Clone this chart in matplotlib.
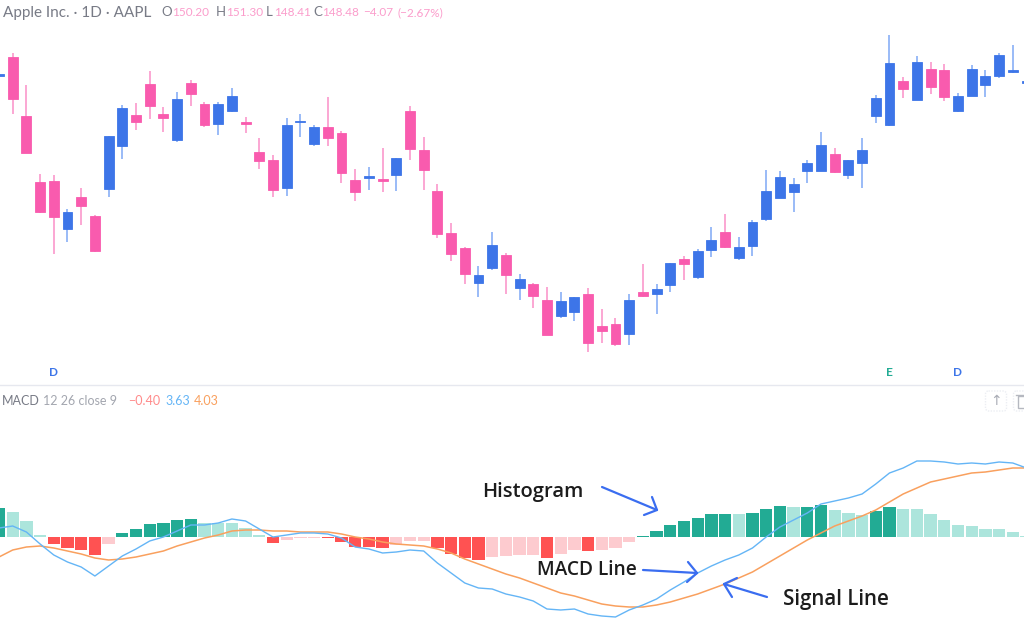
# Apple daily candles with a MACD panel underneath, plus the hand drawn callouts.
import matplotlib
matplotlib.use('Agg')
import matplotlib.pyplot as plt
from matplotlib.patches import FancyBboxPatch, Rectangle

opens = [149.1, 151.0, 145.1, 138.5, 138.6, 133.8, 137.0, 135.1, 137.8, 142.1, 145.2, 148.3, 145.3, 142.7, 148.4, 146.3,
         144.3, 145.6, 144.5, 141.5, 140.7, 137.9, 144.5, 142.3, 144.0, 143.4, 138.7, 138.9, 138.8, 139.2, 145.6, 141.7,
         137.6, 133.4, 131.9, 128.4, 129.9, 131.2, 127.9, 128.3, 126.7, 125.1, 125.5, 127.3, 124.1, 124.3, 123.3, 127.5,
         127.3, 128.2, 130.8, 129.0, 131.7, 133.5, 130.9, 132.1, 134.8, 136.9, 137.5, 139.6, 139.6, 141.3, 139.2, 140.4,
         145.1, 144.2, 148.6, 146.7, 149.8, 149.7, 145.6, 147.1, 148.2, 149.1, 149.5, 148.4]
highs = [149.3, 151.4, 148.2, 139.3, 139.2, 135.8, 137.9, 135.2, 143.1, 146.2, 146.4, 149.6, 146.0, 147.5, 148.7, 146.5,
         146.5, 147.9, 145.0, 142.9, 141.2, 144.9, 145.3, 144.2, 147.0, 143.6, 139.8, 140.0, 141.9, 140.9, 146.1, 143.0,
         138.3, 134.4, 132.0, 130.1, 133.5, 131.4, 129.3, 128.4, 128.0, 127.5, 127.0, 127.9, 125.8, 124.9, 127.3, 130.3,
         128.3, 130.4, 131.1, 131.8, 134.0, 135.3, 133.0, 134.7, 139.7, 139.6, 138.9, 140.7, 143.5, 141.9, 140.7, 142.9,
         147.2, 153.2, 149.0, 151.1, 150.5, 150.3, 147.4, 150.2, 149.7, 151.4, 152.2, 148.6]
lows = [149.1, 145.3, 141.4, 135.4, 131.3, 132.5, 134.2, 131.5, 137.0, 140.8, 143.7, 144.8, 143.5, 142.5, 146.1, 144.0,
        143.2, 145.5, 143.4, 139.8, 137.0, 137.1, 143.0, 142.1, 142.1, 138.4, 136.6, 137.7, 137.5, 137.6, 140.7, 137.7,
        132.9, 130.6, 128.3, 127.0, 129.7, 127.3, 126.7, 125.9, 123.2, 124.9, 124.6, 121.5, 122.4, 122.1, 122.2, 127.0,
        125.3, 127.5, 128.7, 128.8, 131.0, 131.9, 130.7, 131.1, 134.6, 136.9, 135.5, 138.4, 139.6, 139.4, 138.8, 137.9,
        144.4, 144.1, 146.9, 146.7, 147.3, 146.6, 145.5, 147.1, 147.0, 148.9, 149.4, 148.2]
closes = [149.3, 146.8, 141.4, 135.5, 135.0, 135.5, 136.1, 131.6, 143.1, 145.9, 144.5, 146.1, 144.9, 146.8, 147.3, 144.2,
          146.3, 147.1, 144.3, 140.6, 137.7, 144.2, 144.6, 144.0, 142.9, 139.4, 137.5, 139.1, 138.6, 140.9, 141.8, 139.7,
          133.3, 131.3, 129.3, 129.2, 132.2, 129.2, 128.8, 127.1, 123.2, 126.6, 127.0, 122.4, 123.6, 122.3, 126.7, 127.1,
          127.8, 130.4, 130.3, 131.6, 132.7, 132.0, 132.0, 134.5, 137.6, 139.0, 138.3, 140.4, 142.2, 139.5, 140.7, 141.7,
          146.9, 150.4, 147.8, 150.5, 148.0, 147.0, 147.1, 149.8, 149.1, 151.2, 149.7, 148.6]

histogram = [1.45, 1.25, 0.8, 0.1, -0.35, -0.55, -0.65, -0.9, -0.35, 0.2, 0.4, 0.65, 0.7, 0.85, 0.9, 0.7,
             0.7, 0.7, 0.45, 0.1, -0.3, -0.15, -0.05, -0.05, -0.05, -0.25, -0.5, -0.5, -0.55, -0.4, -0.2, -0.2,
             -0.55, -0.85, -1.05, -1.15, -1.0, -0.95, -0.9, -0.9, -1.05, -0.85, -0.65, -0.7, -0.65, -0.55, -0.25, 0.05,
             0.3, 0.6, 0.8, 0.95, 1.15, 1.15, 1.15, 1.2, 1.4, 1.55, 1.5, 1.5, 1.6, 1.35, 1.2, 1.1,
             1.3, 1.5, 1.4, 1.4, 1.15, 0.85, 0.6, 0.55, 0.4, 0.4, 0.25, 0.05]
strong_bars = [0, 4, 5, 6, 7, 9, 10, 11, 12, 13, 14, 20, 24, 25, 26, 27, 28, 32, 33, 34, 35, 40, 43,
               47, 48, 49, 50, 51, 52, 53, 55, 56, 57, 59, 60, 64, 65]
macd_line = [0.45, 0.55, 0.25, -0.35, -0.9, -1.25, -1.5, -1.95, -1.45, -0.95, -0.6, -0.2, 0.0, 0.3, 0.6, 0.6,
             0.7, 0.9, 0.8, 0.4, 0.0, 0.1, 0.2, 0.2, 0.15, -0.05, -0.5, -0.6, -0.8, -0.75, -0.65, -0.7,
             -1.3, -1.8, -2.3, -2.55, -2.6, -2.85, -3.0, -3.2, -3.6, -3.65, -3.6, -3.85, -3.95, -4.0, -3.65, -3.4,
             -3.1, -2.65, -2.25, -1.8, -1.45, -1.15, -0.9, -0.55, 0.0, 0.5, 0.85, 1.2, 1.65, 1.8, 1.95, 2.15,
             2.65, 3.2, 3.45, 3.8, 3.8, 3.75, 3.65, 3.7, 3.65, 3.75, 3.7, 3.45]
signal_line = [-1.0, -0.65, -0.5, -0.45, -0.55, -0.7, -0.85, -1.05, -1.15, -1.1, -1.0, -0.85, -0.7, -0.45, -0.25, -0.05,
               0.1, 0.3, 0.35, 0.35, 0.3, 0.3, 0.25, 0.25, 0.25, 0.15, 0.0, -0.1, -0.25, -0.35, -0.4, -0.45,
               -0.6, -0.8, -1.1, -1.35, -1.6, -1.85, -2.05, -2.3, -2.55, -2.8, -2.95, -3.15, -3.35, -3.45, -3.5, -3.5,
               -3.4, -3.25, -3.05, -2.85, -2.6, -2.35, -2.05, -1.75, -1.35, -0.95, -0.55, -0.15, 0.2, 0.55, 0.8, 1.05,
               1.35, 1.75, 2.15, 2.45, 2.75, 2.9, 3.05, 3.2, 3.25, 3.35, 3.45, 3.45]

# small letters under the candles: candle index, letter, colour
event_marks = [(4, 'D', '#3d75e8'), (65, 'E', '#22ab94'), (70, 'D', '#3d75e8')]

BLUE = '#3d75e8'
PINK = '#f95bae'
GREY = '#787b86'
LABEL_PINK = '#fb9ccb'

plt.rcParams['font.family'] = ['Lato', 'DejaVu Sans']

W, H = 1024, 635
fig = plt.figure(figsize=(W / 100, H / 100), dpi=100)

ax = fig.add_axes([0, (H - 385) / H, 1, 385 / H])
ax2 = fig.add_axes([0, 0, 1, 250 / H])
for a in (ax, ax2):
    a.set_xlim(0.073, 74.82)
    a.axis('off')
ax.set_ylim(118.2, 156.7)
ax2.set_ylim(-4.9, 7.6)

for i in range(len(opens)):
    color = BLUE if closes[i] >= opens[i] else PINK
    wick = '#7ea8f5' if closes[i] >= opens[i] else '#fb8fc8'
    ax.vlines(i, lows[i], highs[i], color=wick, linewidth=1.1, zorder=2)
    bottom = min(opens[i], closes[i])
    ax.bar(i, abs(closes[i] - opens[i]), bottom=bottom, width=0.72, color=color, linewidth=0.6,
           edgecolor=color, zorder=3)

for i, v in enumerate(histogram):
    if v >= 0:
        color = '#22ab94' if i in strong_bars else '#ace5dc'
    else:
        color = '#ff5252' if i in strong_bars else '#fdcbcf'
    ax2.bar(i, v, width=0.9, color=color, linewidth=0, zorder=1)

xs = range(len(macd_line))
ax2.plot(xs, macd_line, color='#64b5f6', linewidth=1.0, zorder=3)
ax2.plot(xs, signal_line, color='#f9a05e', linewidth=1.1, zorder=2)

# overlay in pixel units for the header text, the buttons and the callouts
over = fig.add_axes([0, 0, 1, 1])
over.set_xlim(0, W)
over.set_ylim(H, 0)
over.axis('off')
over.patch.set_alpha(0)

for i, letter, color in event_marks:
    px = -1 + 13.7 * i
    over.text(px, 372, letter, color=color, fontsize=8.5, fontweight='bold', ha='center', va='center')

over.plot([0, W], [384.5, 384.5], color='#e6e8ef', linewidth=1)

header = [(3, 'Apple Inc. · 1D · AAPL', GREY, 11), (161, 'O', GREY, 9.5), (172, '150.20', LABEL_PINK, 8.5),
          (216, 'H', GREY, 9.5), (226, '151.30', LABEL_PINK, 8.5), (266, 'L', GREY, 9.5), (274, '148.41', LABEL_PINK, 8.5),
          (313, 'C', GREY, 9.5), (322, '148.48', LABEL_PINK, 8.5), (363, '−4.07', LABEL_PINK, 8.5),
          (397, '(−2.67%)', LABEL_PINK, 8.5)]
for x, label, color, size in header:
    over.text(x, 12.5, label, color=color, fontsize=size, ha='left', va='center')

macd_header = [(2, 'MACD', GREY), (43, '12 26 close 9', '#a3a6af'), (128, '−0.40', '#ff8a8a'),
               (165, '3.63', '#64b5f6'), (194, '4.03', '#f9a05e')]
for x, label, color in macd_header:
    over.text(x, 401, label, color=color, fontsize=9, ha='left', va='center')

# up and delete buttons
for x in (985.5, 1013.5):
    over.add_patch(FancyBboxPatch((x, 391), 21, 20, boxstyle='round,pad=0,rounding_size=3',
                                  facecolor='white', edgecolor='#eceef3', linewidth=1, linestyle=(0, (1, 1))))
over.text(996, 401, '↑', color='#a9acb5', fontsize=10, ha='center', va='center', family='DejaVu Sans')
over.add_patch(Rectangle((1018, 396), 8, 12, facecolor='none', edgecolor='#b5b8c0', linewidth=1))
over.plot([1016, 1028], [395, 395], color='#b5b8c0', linewidth=1)

callouts = [(482, 492, 'Histogram', 14.5), (537, 570, 'MACD Line', 13.8), (783, 600, 'Signal Line', 14.8)]
for x, y, label, size in callouts:
    over.text(x, y, label, color='#1c1c1c', fontsize=size, fontweight='semibold', family='Open Sans',
              ha='left', va='center')

# shaft start, tip, the two barbs
arrows = [((602, 487), (657, 510), (652, 497), (644, 515)),
          ((643, 570), (697, 573), (688, 562), (687, 582)),
          ((767, 597), (724, 584), (737, 578), (732, 597))]
for start, tip, barb1, barb2 in arrows:
    over.plot([start[0], tip[0]], [start[1], tip[1]], color='#3a6df0', linewidth=1.6, solid_capstyle='round')
    over.plot([barb1[0], tip[0], barb2[0]], [barb1[1], tip[1], barb2[1]], color='#3a6df0', linewidth=1.6,
              solid_capstyle='round')

plt.savefig('out.png', dpi=100)
